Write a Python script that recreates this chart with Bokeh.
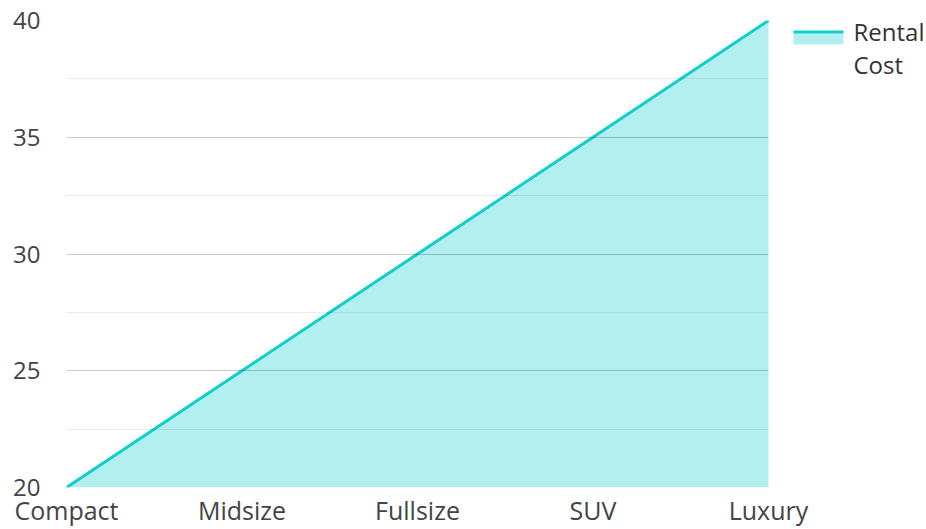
from bokeh.plotting import figure
from bokeh.models import FixedTicker, Range1d, ColumnDataSource
from bokeh.core.properties import value
from bokeh.embed import file_html
from bokeh.resources import INLINE

categories = ["Compact", "Midsize", "Fullsize", "SUV", "Luxury"]
rental_cost = [20, 25, 30, 35, 40]
y_ticks = [20, 25, 30, 35, 40]
y_minor = [22.5, 27.5, 32.5, 37.5]
series_name = ["Rental", "Cost"]

FONT = "Open Sans"
LINE_C = "#0fcfcc"
FILL_C = "#00cac6"

W, H = 926, 529
LEFT, TOP, RIGHT_PX, BOTTOM_PX = 66, 20, 768, 487   # plotting area (pixels)
n = len(categories)
xs = list(range(n))
x_per_px = (n - 1) / (RIGHT_PX - LEFT)
y_lo, y_hi = min(y_ticks), max(y_ticks)
y_per_px = (y_hi - y_lo) / (BOTTOM_PX - TOP)

src = ColumnDataSource(dict(x=xs, y=rental_cost, base=[y_lo] * n))

p = figure(width=W, height=H, output_backend="svg", toolbar_location=None,
           x_range=Range1d(0, (W - LEFT) * x_per_px), y_range=Range1d(y_lo, y_hi),
           min_border_left=LEFT, min_border_top=TOP, min_border_right=0,
           min_border_bottom=H - BOTTOM_PX)
p.outline_line_color = None

p.varea(x="x", y1="base", y2="y", source=src, fill_color=FILL_C, fill_alpha=0.3)
p.line(x="x", y="y", source=src, line_color=LINE_C, line_width=3)

p.xaxis.ticker = FixedTicker(ticks=xs)
p.xaxis.major_label_overrides = {i: c for i, c in enumerate(categories)}
p.yaxis.ticker = FixedTicker(ticks=y_ticks, minor_ticks=y_minor)
for ax in (p.xaxis[0], p.yaxis[0]):
    ax.axis_line_color = None
    ax.major_tick_line_color = None
    ax.minor_tick_line_color = None
    ax.major_tick_out = 0
    ax.major_tick_in = 0
    ax.minor_tick_out = 0
    ax.minor_tick_in = 0
    ax.major_label_text_font = FONT
    ax.major_label_text_color = "#444444"
p.yaxis.major_label_text_font_size = "24px"
p.xaxis.major_label_text_font_size = "25px"
p.yaxis.major_label_standoff = 26
p.xaxis.major_label_standoff = 5

p.xgrid.grid_line_color = None
p.ygrid.ticker = FixedTicker(ticks=y_ticks, minor_ticks=y_minor)
p.ygrid.cross_bounds = (0, n - 1)
p.ygrid.grid_line_color = "black"
p.ygrid.grid_line_alpha = 0.2
p.ygrid.minor_grid_line_color = "black"
p.ygrid.minor_grid_line_alpha = 0.08
p.ygrid.level = "overlay"

# legend, positioned in pixels and mapped to the plot's scales
def fx(px):
    return (px - LEFT) * x_per_px

def fy(py):
    return y_hi - (py - TOP) * y_per_px

p.quad(left=[fx(793)], right=[fx(843)], top=[fy(33)], bottom=[fy(44)],
       fill_color=FILL_C, fill_alpha=0.3, line_color=None)
p.segment(x0=[fx(793)], x1=[fx(843)], y0=[fy(31.5)], y1=[fy(31.5)],
          line_color=LINE_C, line_width=3)
p.text(x=[fx(853)] * 2, y=[fy(30.5), fy(64)], text=series_name, text_font=value(FONT),
       text_font_size="24px", text_color="#333333", text_baseline="alphabetic", text_align="left")

open("out.html", "w").write(file_html(p, INLINE))
